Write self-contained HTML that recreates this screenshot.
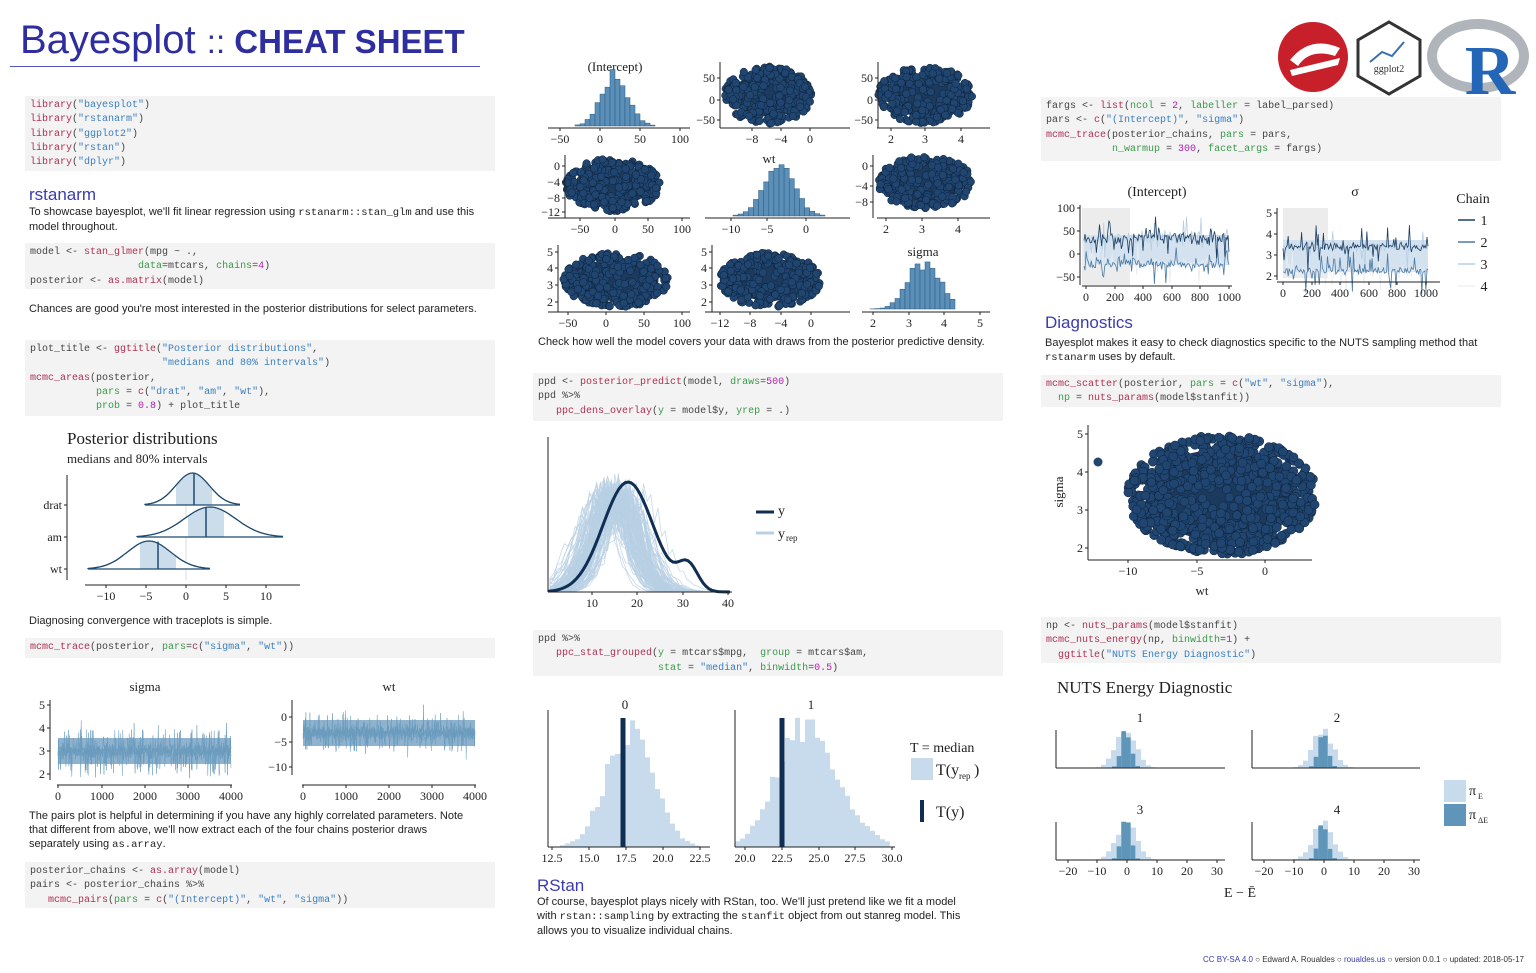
<!DOCTYPE html>
<html><head><meta charset="utf-8">
<style>
*{margin:0;padding:0;box-sizing:border-box}
body{width:1536px;height:973px;background:#fff;position:relative;overflow:hidden;font-family:"Liberation Sans",sans-serif;color:#222}
.a{position:absolute;white-space:nowrap}
.code{position:absolute;background:#f3f3f3;font-family:"Liberation Mono",monospace;font-size:10px;line-height:14.3px;padding:3px 5px;color:#444;white-space:pre}
.f{color:#b03050}.s{color:#3a7fc0}.g{color:#3a9a4a}.n{color:#b020b0}
.t{position:absolute;font-size:11px;line-height:14px;color:#222;white-space:nowrap}
.h{position:absolute;color:#3b3bb0;font-size:17px;white-space:nowrap}
.m{font-family:"Liberation Mono",monospace;font-size:10.5px}
svg{position:absolute;left:0;top:0}
</style></head><body>
<svg id="sv" width="1536" height="973" font-family="Liberation Serif,serif" font-size="12" fill="#222"></svg>

<div class="a" style="left:20px;top:18px;font-size:40px;color:#2e2e9e">Bayesplot <span style="font-size:33px">:: <b>CHEAT SHEET</b></span></div>
<div class="a" style="left:10px;top:66px;width:470px;height:1px;background:#5555bb"></div>

<div class="code" style="left:25px;top:96px;width:470px;height:75px"><span class="f">library</span>(<span class="s">"bayesplot"</span>)
<span class="f">library</span>(<span class="s">"rstanarm"</span>)
<span class="f">library</span>(<span class="s">"ggplot2"</span>)
<span class="f">library</span>(<span class="s">"rstan"</span>)
<span class="f">library</span>(<span class="s">"dplyr"</span>)</div>
<div class="h" style="left:29px;top:185px">rstanarm</div>
<div class="t" style="left:29px;top:205px">To showcase bayesplot, we'll fit linear regression using <span class="m">rstanarm::stan_glm</span> and use this<br>model throughout.</div>
<div class="code" style="left:25px;top:243px;width:470px;height:46px">model &lt;- <span class="f">stan_glmer</span>(mpg ~ .,
                  <span class="g">data</span>=mtcars, <span class="g">chains</span>=<span class="n">4</span>)
posterior &lt;- <span class="f">as.matrix</span>(model)</div>
<div class="t" style="left:29px;top:302px">Chances are good you're most interested in the posterior distributions for select parameters.</div>
<div class="code" style="left:25px;top:340px;width:470px;height:76px">plot_title &lt;- <span class="f">ggtitle</span>(<span class="s">"Posterior distributions"</span>,
                      <span class="s">"medians and 80% intervals"</span>)
<span class="f">mcmc_areas</span>(posterior,
           <span class="g">pars</span> = <span class="f">c</span>(<span class="s">"drat"</span>, <span class="s">"am"</span>, <span class="s">"wt"</span>),
           <span class="g">prob</span> = <span class="n">0.8</span>) + plot_title</div>
<div class="t" style="left:29px;top:614px">Diagnosing convergence with traceplots is simple.</div>
<div class="code" style="left:25px;top:638px;width:470px;height:20px"><span class="f">mcmc_trace</span>(posterior, <span class="g">pars</span>=<span class="f">c</span>(<span class="s">"sigma"</span>, <span class="s">"wt"</span>))</div>
<div class="t" style="left:29px;top:809px">The pairs plot is helpful in determining if you have any highly correlated parameters.  Note<br>that different from above, we'll now extract each of the four chains posterior draws<br>separately using <span class="m">as.array</span>.</div>
<div class="code" style="left:25px;top:862px;width:470px;height:46px">posterior_chains &lt;- <span class="f">as.array</span>(model)
pairs &lt;- posterior_chains %&gt;%
   <span class="f">mcmc_pairs</span>(<span class="g">pars</span> = <span class="f">c</span>(<span class="s">"(Intercept)"</span>, <span class="s">"wt"</span>, <span class="s">"sigma"</span>))</div>

<div class="t" style="left:538px;top:335px">Check how well the model covers your data with draws from the posterior predictive density.</div>
<div class="code" style="left:533px;top:373px;width:470px;height:48px">ppd &lt;- <span class="f">posterior_predict</span>(model, <span class="g">draws</span>=<span class="n">500</span>)
ppd %&gt;%
   <span class="f">ppc_dens_overlay</span>(<span class="g">y</span> = model$y, <span class="g">yrep</span> = .)</div>
<div class="code" style="left:533px;top:630px;width:470px;height:46px">ppd %&gt;%
   <span class="f">ppc_stat_grouped</span>(<span class="g">y</span> = mtcars$mpg,  <span class="g">group</span> = mtcars$am,
                    <span class="g">stat</span> = <span class="s">"median"</span>, <span class="g">binwidth</span>=<span class="n">0.5</span>)</div>
<div class="h" style="left:537px;top:876px">RStan</div>
<div class="t" style="left:537px;top:895px">Of course, bayesplot plays nicely with RStan, too.  We'll just pretend like we fit a model<br>with <span class="m">rstan::sampling</span> by extracting the <span class="m">stanfit</span> object from out stanreg model.  This<br>allows you to visualize individual chains.</div>

<div class="code" style="left:1041px;top:97px;width:460px;height:64px">fargs &lt;- <span class="f">list</span>(<span class="g">ncol</span> = <span class="n">2</span>, <span class="g">labeller</span> = label_parsed)
pars &lt;- <span class="f">c</span>(<span class="s">"(Intercept)"</span>, <span class="s">"sigma"</span>)
<span class="f">mcmc_trace</span>(posterior_chains, <span class="g">pars</span> = pars,
           <span class="g">n_warmup</span> = <span class="n">300</span>, <span class="g">facet_args</span> = fargs)</div>
<div class="h" style="left:1045px;top:313px">Diagnostics</div>
<div class="t" style="left:1045px;top:336px">Bayesplot makes it easy to check diagnostics specific to the NUTS sampling method that<br><span class="m">rstanarm</span> uses by default.</div>
<div class="code" style="left:1041px;top:375px;width:460px;height:32px"><span class="f">mcmc_scatter</span>(posterior, <span class="g">pars</span> = <span class="f">c</span>(<span class="s">"wt"</span>, <span class="s">"sigma"</span>),
  <span class="g">np</span> = <span class="f">nuts_params</span>(model$stanfit))</div>
<div class="code" style="left:1041px;top:617px;width:460px;height:46px">np &lt;- <span class="f">nuts_params</span>(model$stanfit)
<span class="f">mcmc_nuts_energy</span>(np, <span class="g">binwidth</span>=<span class="n">1</span>) +
  <span class="f">ggtitle</span>(<span class="s">"NUTS Energy Diagnostic"</span>)</div>
<div class="a" style="right:12px;top:955px;font-size:8px;color:#333"><span style="color:#3a3ab0">CC BY-SA 4.0</span> ○ Edward A. Roualdes ○ <span style="color:#3a3ab0">roualdes.us</span> ○ version 0.0.1 ○ updated: 2018-05-17</div>

<script>
var S=document.getElementById('sv'),NS='http://www.w3.org/2000/svg',seed=7;
function R(){seed=(seed*16807)%2147483647;return seed/2147483647}
function N(){return (R()+R()+R()+R()-2)*1.2}
function el(t,a,tx){var e=document.createElementNS(NS,t);for(var k in a)e.setAttribute(k,a[k]);if(tx!=null)e.textContent=tx;S.appendChild(e);return e}
function T(x,y,s,o){o=o||{};var a={x:x,y:y,'text-anchor':o.a||'middle','font-size':o.fs||12};if(o.w)a['font-weight']=o.w;if(o.fill)a.fill=o.fill;if(o.tr)a.transform=o.tr;return el('text',a,s)}
function L(x1,y1,x2,y2,c,w){return el('line',{x1:x1,y1:y1,x2:x2,y2:y2,stroke:c||'#222','stroke-width':w||1})}
function yax(x,y1,y2,ticks){L(x,y1,x,y2);ticks.forEach(function(t){L(x-3,t[1],x,t[1]);T(x-5,t[1]+4,t[0],{a:'end'})})}
function xax(y,x1,x2,ticks){L(x1,y,x2,y);ticks.forEach(function(t){L(t[1],y,t[1],y+3);T(t[1],y+15,t[0])})}
function hist(x0,x1,base,h,c,sk,stroke){var n=Math.round((x1-x0)/5),w=(x1-x0)/n;for(var i=0;i<n;i++){var u=(i+0.5)/n*2-1-(sk||0);var v=Math.exp(-u*u*4.5)*h*(0.85+R()*0.3);if(sk&&u>0)v=Math.exp(-u*u*2.5)*h*(0.85+R()*0.3);el('rect',{x:x0+i*w,y:base-v,width:w,height:v,fill:c,stroke:stroke||'none','stroke-width':0.5})}}
function blob(cx,cy,rx,ry,n,r){el('ellipse',{cx:cx,cy:cy,rx:rx*0.85,ry:ry*0.8,fill:'#1c3a5e'});for(var i=0;i<n;i++){var a=R()*6.283,d=Math.pow(R(),0.35)*1.05;el('circle',{cx:cx+Math.cos(a)*rx*d,cy:cy+Math.sin(a)*ry*d,r:r,fill:'#1f4570',stroke:'#0d2036','stroke-width':0.5})}}
function spiky(x0,x1,mid,amp,c,w,n,sp){var p='';for(var i=0;i<=n;i++){var x=x0+(x1-x0)*i/n,v=N()*amp;if(R()<0.15)v+= (R()<0.5?-1:1)*R()*sp;p+=(i?'L':'M')+x.toFixed(1)+' '+(mid+v).toFixed(1)}el('path',{d:p,fill:'none',stroke:c,'stroke-width':w||0.6})}
function dens(x0,x1,base,h,c,fill){var p='M'+x0+' '+base;for(var i=0;i<=40;i++){var u=i/40*2-1;p+='L'+(x0+(x1-x0)*i/40).toFixed(1)+' '+(base-Math.exp(-u*u*4)*h).toFixed(1)}el('path',{d:p,fill:fill||'none',stroke:c,'stroke-width':1.2})}

/* posterior areas */
T(67,444,'Posterior distributions',{a:'start',fs:17});T(67,463,'medians and 80% intervals',{a:'start',fs:13});
L(186,475,186,580,'#ddd');
[[505,145,240,32,194],[537,137,283,30,206],[569,88,210,28,158]].forEach(function(d){dens(d[1],d[2],d[0],d[3],'#1f4a70','#fff');var p='M'+(d[4]-18)+' '+d[0];for(var i=0;i<=20;i++){var x=d[4]-18+36*i/20,u=(x-d[1])/(d[2]-d[1])*2-1;p+='L'+x.toFixed(1)+' '+(d[0]-Math.exp(-u*u*4)*d[3]).toFixed(1)}p+='L'+(d[4]+18)+' '+d[0]+'Z';el('path',{d:p,fill:'#cbdcea',stroke:'none'});dens(d[1],d[2],d[0],d[3],'#1f4a70');L(d[4],d[0],d[4],d[0]-d[3]*0.98,'#1f4a70',1.5);L(d[1],d[0],d[2],d[0],'#1f4a70',1.2)});
yax(67,475,580,[['drat',505],['am',537],['wt',569]]);
xax(585,85,300,[['−10',106],['−5',146],['0',186],['5',226],['10',266]]);

/* sigma/wt trace */
T(145,691,'sigma',{fs:13});T(389,691,'wt',{fs:13});
el('rect',{x:58,y:738,width:173,height:26,fill:'#8fb3cf'});el('rect',{x:303,y:720,width:172,height:26,fill:'#8fb3cf'});
for(var k=0;k<4;k++){spiky(58,231,751,5,'#6a9bbd',0.5,350,25);spiky(303,475,733,5,'#6a9bbd',0.5,350,20)}
yax(50,700,780,[['5',705],['4',728],['3',751],['2',774]]);xax(785,57,232,[['0',58],['1000',102],['2000',145],['3000',188],['4000',231]]);
yax(292,700,775,[['0',717],['−5',742],['−10',767]]);xax(785,302,476,[['0',303],['1000',346],['2000',389],['3000',432],['4000',475]]);

/* pairs */
T(615,71,'(Intercept)',{fs:13});T(769,163,'wt',{fs:13});T(923,256,'sigma',{fs:13});
hist(575,655,126,50,'#5b8fb8',0,'#2a5a80');hist(733,825,216,48,'#5b8fb8',0,'#2a5a80');hist(870,955,309,45,'#5b8fb8',0.2,'#2a5a80');
blob(768,95,42,27,260,3.8);blob(925,95,45,27,260,3.8);blob(613,185,45,25,260,3.8);blob(925,182,45,25,260,3.8);blob(616,280,50,26,280,3.8);blob(770,280,48,26,280,3.8);
xax(128,548,690,[['−50',560],['0',600],['50',640],['100',680]]);xax(128,720,850,[['−8',752],['−4',781],['0',810]]);xax(128,877,990,[['2',891],['3',925],['4',961]]);
xax(218,548,690,[['−50',580],['0',615],['50',648],['100',682]]);xax(218,705,850,[['−10',731],['−5',767],['0',806]]);xax(218,877,990,[['2',886],['3',922],['4',958]]);
xax(312,548,690,[['−50',568],['0',606],['50',644],['100',682]]);xax(312,705,850,[['−12',720],['−8',750],['−4',781],['0',811]]);xax(312,862,990,[['2',873],['3',909],['4',944],['5',980]]);
yax(720,62,128,[['50',78],['0',100],['−50',120]]);yax(878,62,128,[['50',78],['0',100],['−50',120]]);
yax(565,155,218,[['0',166],['−4',182],['−8',198],['−12',212]]);yax(873,155,218,[['0',166],['−4',186],['−8',202]]);
yax(558,245,312,[['5',252],['4',268],['3',285],['2',302]]);yax(712,245,312,[['5',252],['4',268],['3',285],['2',302]]);

/* dens overlay */
for(var i=0;i<120;i++){var c=605+N()*12,w=85+N()*15;var p='M550 592';for(var j=0;j<=50;j++){var x=550+180*j/50,u=(x-c-10)/w*2;p+='L'+x.toFixed(1)+' '+(592-Math.exp(-u*u*2.2)*(95+N()*15)).toFixed(1)}el('path',{d:p,fill:'none',stroke:'#b8d0e4','stroke-width':0.8,opacity:0.8})}
var p='M550 592';for(var j=0;j<=60;j++){var x=550+180*j/60,u=(x-628)/30,v=(x-688)/14;p+='L'+x.toFixed(1)+' '+(592-Math.exp(-u*u/1.4)*110-Math.exp(-v*v)*25).toFixed(1)}el('path',{d:p,fill:'none',stroke:'#0f2e52','stroke-width':3});
L(548,437,548,592);xax(592,548,732,[['10',592],['20',637],['30',683],['40',728]]);
L(756,512,774,512,'#0f2e52',3);T(778,515,'y',{a:'start',fs:14});L(756,533,774,533,'#b8d0e4',3);T(778,538,'y',{a:'start',fs:14});T(786,541,'rep',{a:'start',fs:9});

/* stat grouped */
T(625,709,'0',{fs:13});T(811,709,'1',{fs:13});
hist(560,700,847,115,'#c7dbec',0);hist(735,890,847,120,'#c7dbec',-0.15);
L(623,718,623,847,'#0f2e52',5);L(782,718,782,847,'#0f2e52',5);
L(548,710,548,847);xax(847,548,710,[['12.5',552],['15.0',589],['17.5',626],['20.0',663],['22.5',700]]);
L(735,710,735,847);xax(847,735,895,[['20.0',745],['22.5',782],['25.0',819],['27.5',855],['30.0',892]]);
T(910,752,'T = median',{a:'start',fs:14});el('rect',{x:911,y:758,width:22,height:22,fill:'#c7dbec'});T(936,775,'T(y',{a:'start',fs:16});T(959,779,'rep',{a:'start',fs:9});T(974,775,')',{a:'start',fs:16});
L(922,800,922,822,'#0f2e52',4);T(936,817,'T(y)',{a:'start',fs:16});

/* logos */
el('circle',{cx:1313,cy:57,r:35,fill:'#c8202a'});el('path',{d:'M1290 60 Q1310 35 1340 48 L1335 56 Q1310 48 1298 66 Z',fill:'#fff'});el('path',{d:'M1290 70 L1340 58 L1338 65 L1292 76Z',fill:'#fff'});
el('polygon',{points:'1389,22 1420,40 1420,76 1389,94 1358,76 1358,40',fill:'#fff',stroke:'#333','stroke-width':3});el('polyline',{points:'1370,62 1382,52 1392,56 1404,42',fill:'none',stroke:'#3a6fb0','stroke-width':2});T(1389,72,'ggplot2',{fs:10,fill:'#333'});
el('ellipse',{cx:1478,cy:56,rx:46,ry:32,fill:'none',stroke:'#b0b4bb','stroke-width':10});T(1490,94,'R',{fs:70,w:'bold',fill:'#2366b8'});

/* chain trace */
T(1157,196,'(Intercept)',{fs:14});T(1355,196,'σ',{fs:14});
el('rect',{x:1082,y:208,width:48,height:77,fill:'#ececec'});el('rect',{x:1283,y:208,width:45,height:70,fill:'#ececec'});
el('rect',{x:1084,y:235,width:145,height:30,fill:'#d3e2ee'});el('rect',{x:1283,y:240,width:145,height:32,fill:'#d3e2ee'});
['#e8eef4','#b8cfe2','#4a7aa5','#1d3f66'].forEach(function(c,k){spiky(1084,1229,250+(k%2?-12:14),5,c,0.8,140,20);spiky(1283,1428,255+(k%2?-8:16),3,c,0.8,140,22)});
yax(1080,205,285,[['100',208],['50',231],['0',254],['−50',277]]);xax(286,1082,1232,[['0',1086],['200',1115],['400',1143],['600',1172],['800',1200],['1000',1229]]);
yax(1277,208,280,[['5',213],['4',234],['3',255],['2',276]]);xax(282,1277,1440,[['0',1283],['200',1312],['400',1340],['600',1369],['800',1397],['1000',1426]]);
T(1473,203,'Chain',{fs:14});['#1d3f66','#4a7aa5','#b8cfe2','#eef2f6'].forEach(function(c,k){L(1458,220+k*22,1475,220+k*22,c,1.5);T(1484,225+k*22,''+(k+1),{fs:14})});

/* scatter */
blob(1222,495,90,57,700,4.5);el('circle',{cx:1098,cy:462,r:4.5,fill:'#1f4570'});
yax(1088,425,560,[['5',434],['4',472],['3',510],['2',548]]);xax(560,1088,1312,[['−10',1128],['−5',1197],['0',1265]]);
T(1202,595,'wt',{fs:13});T(1063,492,'sigma',{fs:13,tr:'rotate(-90 1063 492)'});

/* NUTS */
T(1057,693,'NUTS Energy Diagnostic',{a:'start',fs:17});
[[1140,1057,1225,768,'1'],[1337,1253,1420,768,'2'],[1140,1057,1225,860,'3'],[1337,1253,1420,860,'4']].forEach(function(d){T(d[0],d[3]-46,d[4],{fs:13});var c=d[0]-14;hist(c-30,c+30,d[3],38,'#c7dbec');hist(c-14,c+14,d[3],40,'#5e95b8');L(d[1]-1,d[3]-38,d[1]-1,d[3]);L(d[1]-1,d[3],d[2],d[3])});
xax(860,1056,1225,[['−20',1068],['−10',1097],['0',1127],['10',1157],['20',1187],['30',1217]]);
xax(860,1252,1420,[['−20',1264],['−10',1294],['0',1324],['10',1354],['20',1384],['30',1414]]);
T(1240,897,'E − Ē',{fs:14});
el('rect',{x:1444,y:780,width:22,height:22,fill:'#c7dbec'});el('rect',{x:1444,y:804,width:22,height:22,fill:'#5e95b8'});
T(1469,795,'π',{a:'start',fs:14});T(1478,799,'E',{a:'start',fs:8});T(1469,819,'π',{a:'start',fs:14});T(1478,823,'ΔE',{a:'start',fs:8});
</script>
</body></html>
